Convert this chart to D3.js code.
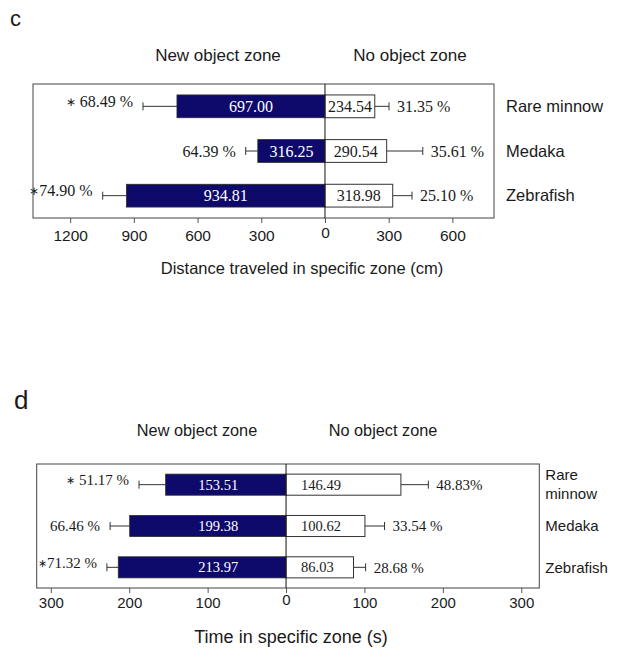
<!DOCTYPE html>
<html>
<head>
<meta charset="utf-8">
<script src="https://cdn.jsdelivr.net/npm/d3@7"></script>
<style>
  body { margin: 0; background: #fff; }
  svg text { fill: #1a1a1a; }
</style>
</head>
<body>
<svg width="641" height="666"></svg>
<script>
// --- data ---
const species = ["Rare minnow", "Medaka", "Zebrafish"];

// panel c: distance travelled (cm)
const distNew = [697.00, 316.25, 934.81];
const distNewErr = [160, 57, 112];
const distNo = [234.54, 290.54, 318.98];
const distNoErr = [67, 170, 91];
const distNewPct = ["\u2217 68.49 %", "64.39 %", "\u221774.90 %"];
const distNoPct = ["31.35 %", "35.61 %", "25.10 %"];
const distTicks = [-1200, -900, -600, -300, 0, 300, 600];

// panel d: time spent (s)
const timeNew = [153.51, 199.38, 213.97];
const timeNewErr = [34, 25, 14.5];
const timeNo = [146.49, 100.62, 86.03];
const timeNoErr = [35, 25, 15.5];
const timeNewPct = ["\u2217 51.17 %", "66.46 %", "\u221771.32 %"];
const timeNoPct = ["48.83%", "33.54 %", "28.68 %"];
const timeTicks = [-300, -200, -100, 0, 100, 200, 300];

const navy = "#0e0a6c";
const sans = "'Liberation Sans', Arial, sans-serif";
const serif = "'Liberation Serif', 'Times New Roman', serif";

let svg = d3.select("svg");

function drawPanel(p) {
  let g = svg.append("g");

  let x = d3.scaleLinear().domain(p.domain).range([p.left, p.right]);
  let y = d3.scaleBand().domain(species)
    .range([p.top, p.bottom])
    .paddingInner(0.49).paddingOuter(0.245);
  let x0 = x(0);

  let rows = species.map((s, i) => ({
    name: s, nv: p.newVals[i], ne: p.newErr[i], ov: p.noVals[i], oe: p.noErr[i],
    np: p.newPct[i], op: p.noPct[i]
  }));

  // panel letter + zone headers
  g.append("text").attr("x", p.letterX).attr("y", p.letterY)
    .attr("font-family", sans).attr("font-size", p.letterSize).text(p.letter);
  g.append("text").attr("x", x0 - p.hdrL).attr("y", p.hdrY)
    .attr("text-anchor", "middle").attr("font-family", sans).attr("font-size", p.hdrSize)
    .text("New object zone");
  g.append("text").attr("x", x0 + p.hdrR).attr("y", p.hdrY)
    .attr("text-anchor", "middle").attr("font-family", sans).attr("font-size", p.hdrSize)
    .text("No object zone");

  // axis
  let axis = d3.axisBottom(x)
    .tickValues(p.ticks)
    .tickSize(5)
    .tickPadding(p.tickPad)
    .tickFormat(d => Math.abs(d));
  let ax = g.append("g")
    .attr("transform", `translate(0,${p.bottom})`)
    .call(axis);
  ax.select(".domain").remove();
  ax.selectAll(".tick line").attr("stroke", "#555");
  ax.selectAll(".tick text")
    .attr("font-family", sans).attr("font-size", p.tickSize).attr("fill", "#1a1a1a")
    .attr("dy", d => d === 0 ? "0.52em" : "0.71em");

  g.append("text").attr("x", p.titleX).attr("y", p.titleY)
    .attr("text-anchor", "middle").attr("font-family", sans).attr("font-size", p.titleSize)
    .text(p.title);

  let bars = g.selectAll(".row").data(rows).enter().append("g").classed("row", true);
  let bw = y.bandwidth();

  // error bars
  bars.append("line")
    .attr("x1", d => x(-d.nv)).attr("x2", d => x(-d.nv - d.ne))
    .attr("y1", d => y(d.name) + bw / 2).attr("y2", d => y(d.name) + bw / 2)
    .attr("stroke", "#333");
  bars.append("line")
    .attr("x1", d => x(-d.nv - d.ne)).attr("x2", d => x(-d.nv - d.ne))
    .attr("y1", d => y(d.name) + bw / 2 - 4).attr("y2", d => y(d.name) + bw / 2 + 4)
    .attr("stroke", "#333");
  bars.append("line")
    .attr("x1", d => x(d.ov)).attr("x2", d => x(d.ov + d.oe))
    .attr("y1", d => y(d.name) + bw / 2).attr("y2", d => y(d.name) + bw / 2)
    .attr("stroke", "#333");
  bars.append("line")
    .attr("x1", d => x(d.ov + d.oe)).attr("x2", d => x(d.ov + d.oe))
    .attr("y1", d => y(d.name) + bw / 2 - 4).attr("y2", d => y(d.name) + bw / 2 + 4)
    .attr("stroke", "#333");

  // bars
  bars.append("rect")
    .attr("x", d => x(-d.nv)).attr("width", d => x0 - x(-d.nv))
    .attr("y", d => y(d.name)).attr("height", bw)
    .attr("fill", navy).attr("stroke", "#2a2a2a").attr("stroke-width", 0.8);
  bars.append("rect")
    .attr("x", x0).attr("width", d => x(d.ov) - x0)
    .attr("y", d => y(d.name)).attr("height", bw)
    .attr("fill", "#fff").attr("stroke", "#333").attr("stroke-width", 1);

  // value labels
  bars.append("text")
    .attr("x", d => p.newLabelAt != null ? x(p.newLabelAt) : (x(-d.nv) + x0) / 2)
    .attr("y", d => y(d.name) + bw / 2).attr("dy", "0.35em")
    .attr("text-anchor", "middle").attr("font-family", serif).attr("font-size", p.valSize)
    .style("fill", "#fff")
    .text(d => d.nv.toFixed(2));
  bars.append("text")
    .attr("x", d => p.noLabelStart != null ? x0 + p.noLabelStart : (x(d.ov) + x0) / 2)
    .attr("y", d => y(d.name) + bw / 2).attr("dy", "0.35em")
    .attr("text-anchor", p.noLabelStart != null ? "start" : "middle")
    .attr("font-family", serif).attr("font-size", p.valSize)
    .text(d => d.ov.toFixed(2));

  // percent labels, the significance star drawn a bit smaller
  bars.append("text")
    .attr("x", d => x(-d.nv - d.ne) - 10)
    .attr("y", d => y(d.name) + bw / 2).attr("dy", "0.35em")
    .attr("text-anchor", "end").attr("font-family", serif).attr("font-size", p.pctSize)
    .each(function(d) {
      let t = d3.select(this);
      if (d.np.startsWith("\u2217")) {
        t.append("tspan").attr("font-size", "0.72em").attr("dy", "-0.05em").text("\u2217");
        t.append("tspan").attr("dy", "0.05em").text(d.np.slice(1));
      } else {
        t.text(d.np);
      }
    });
  bars.append("text")
    .attr("x", d => x(d.ov + d.oe) + 8)
    .attr("y", d => y(d.name) + bw / 2).attr("dy", "0.35em")
    .attr("font-family", serif).attr("font-size", p.pctSize)
    .text(d => d.op);

  // species names
  let names = bars.append("text")
    .attr("x", p.right + p.nameGap)
    .attr("y", d => y(d.name) + bw / 2)
    .attr("font-family", sans).attr("font-size", p.nameSize);
  if (p.wrapNames) {
    names.each(function(d) {
      let parts = d.name.split(" ");
      let t = d3.select(this);
      if (parts.length > 1) {
        t.append("tspan").attr("x", p.right + p.nameGap).attr("dy", "-0.3em").text(parts[0]);
        t.append("tspan").attr("x", p.right + p.nameGap).attr("dy", "1.27em").text(parts[1]);
      } else {
        t.attr("dy", "0.35em").text(d.name);
      }
    });
  } else {
    names.attr("dy", "0.35em").text(d => d.name);
  }

  // frame and zero line
  g.append("rect")
    .attr("x", p.left).attr("y", p.top)
    .attr("width", p.right - p.left).attr("height", p.bottom - p.top)
    .attr("fill", "none").attr("stroke", "#444").attr("stroke-width", 1);
  g.append("line")
    .attr("x1", x0).attr("x2", x0).attr("y1", p.top).attr("y2", p.bottom)
    .attr("stroke", "#111").attr("stroke-width", 1);
}

drawPanel({
  letter: "c", letterX: 10, letterY: 26, letterSize: 22,
  hdrY: 61, hdrL: 107, hdrR: 85, hdrSize: 17,
  domain: [-1375, 796], left: 33, right: 494, top: 84, bottom: 218,
  ticks: distTicks, tickPad: 7, tickSize: 15.5,
  title: "Distance traveled in specific zone (cm)", titleX: 302, titleY: 274, titleSize: 16.5,
  newVals: distNew, newErr: distNewErr, noVals: distNo, noErr: distNoErr,
  newPct: distNewPct, noPct: distNoPct,
  valSize: 16, pctSize: 16, nameSize: 16.5, nameGap: 12, wrapNames: false
});

drawPanel({
  letter: "d", letterX: 14, letterY: 409, letterSize: 26,
  hdrY: 436, hdrL: 89, hdrR: 97, hdrSize: 16.3,
  domain: [-318, 323], left: 36.7, right: 539.3, top: 464, bottom: 588,
  ticks: timeTicks, tickPad: 4.5, tickSize: 15,
  title: "Time in specific zone (s)", titleX: 291, titleY: 643, titleSize: 18,
  newVals: timeNew, newErr: timeNewErr, noVals: timeNo, noErr: timeNoErr,
  newPct: timeNewPct, noPct: timeNoPct,
  newLabelAt: -86.5, noLabelStart: 15,
  valSize: 14.5, pctSize: 15, nameSize: 15, nameGap: 6, wrapNames: true
});
</script>
</body>
</html>
